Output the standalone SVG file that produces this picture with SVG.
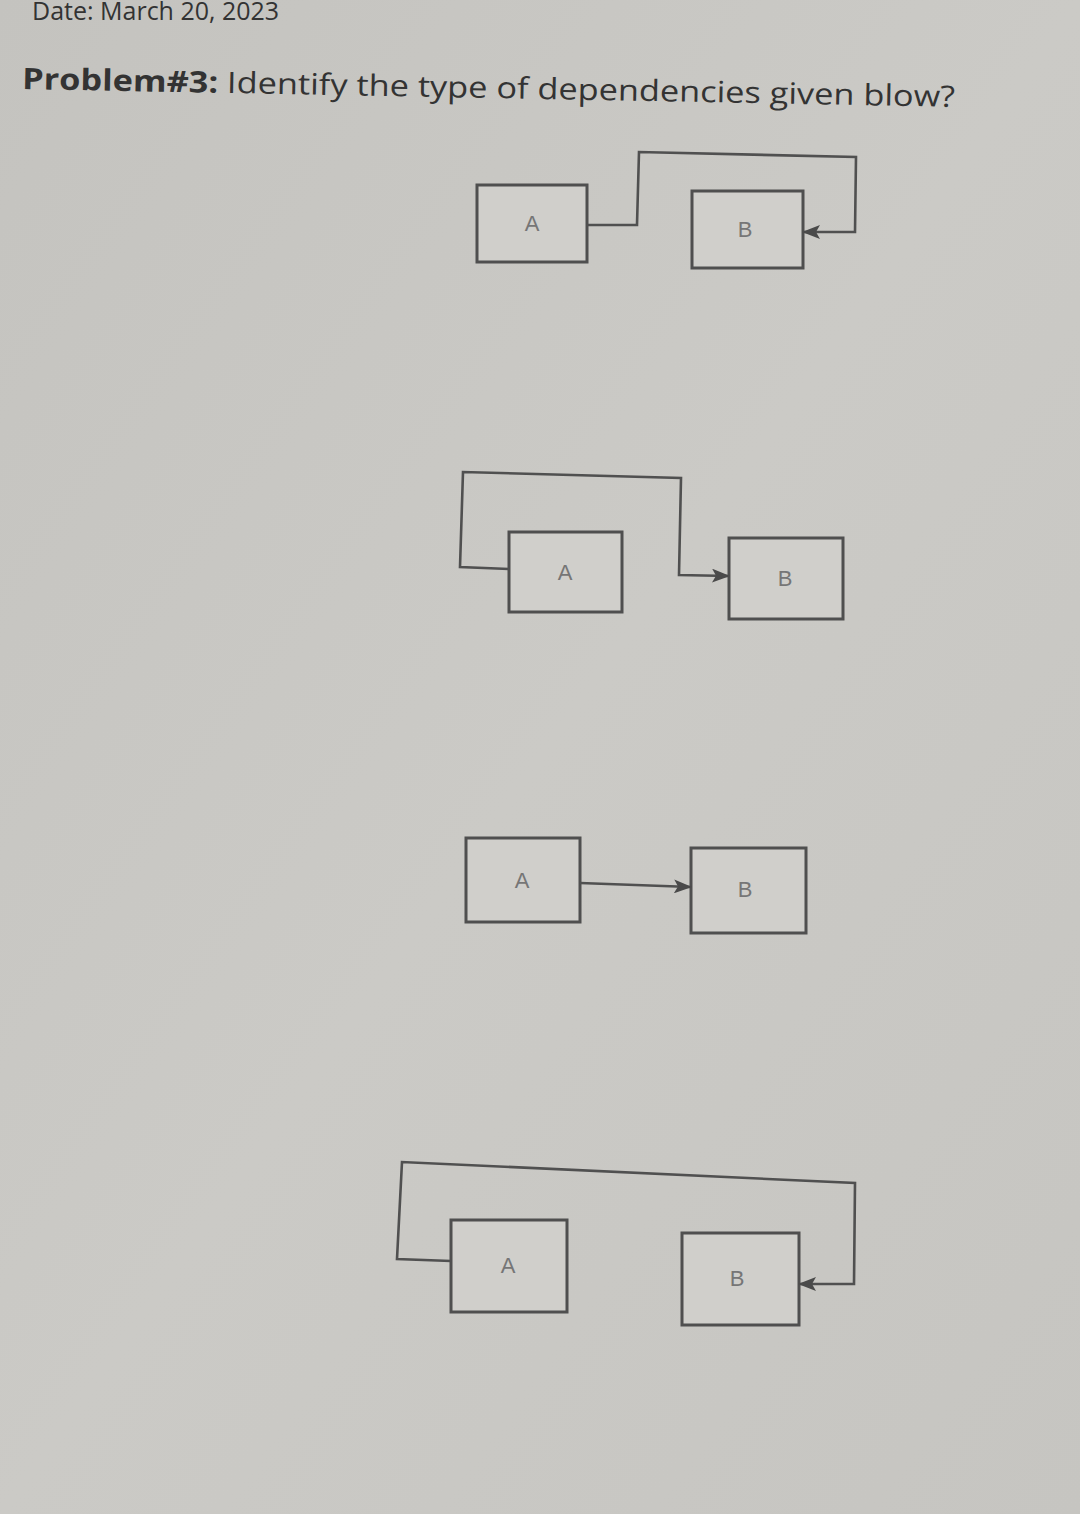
<svg xmlns="http://www.w3.org/2000/svg" width="1080" height="1514" viewBox="0 0 1080 1514">
  <defs>
    <linearGradient id="paper" x1="0" y1="0" x2="1" y2="1">
      <stop offset="0" stop-color="#c4c3bf"/>
      <stop offset="0.5" stop-color="#cbcac6"/>
      <stop offset="1" stop-color="#c6c5c1"/>
    </linearGradient>
    <marker id="arrow" viewBox="0 0 18 14" refX="17" refY="7" markerWidth="18" markerHeight="14" markerUnits="userSpaceOnUse" orient="auto">
      <path d="M0,0 L18,7 L0,14 L4,7 Z" fill="#4a4a4a"/>
    </marker>
  </defs>
  <style>
    .box { fill: #d0cfcb; stroke: #4f4f4f; stroke-width: 3; }
    .lbl { font-family: "Liberation Sans", Arial, sans-serif; font-size: 22px; fill: #767676; text-anchor: middle; }
    .conn { fill: none; stroke: #505050; stroke-width: 2.6; stroke-linejoin: miter; }
    .arr { marker-end: url(#arrow); }
    .hdr { font-family: "Open Sans", "Liberation Sans", sans-serif; fill: #333333; }
  </style>
  <rect x="0" y="0" width="1080" height="1514" fill="url(#paper)"/>

  <g id="header">
    <text class="hdr" x="32" y="20" font-size="25" fill="#555">Date: March 20, 2023</text>
    <text class="hdr" x="22" y="89" font-size="29.5" textLength="933" lengthAdjust="spacingAndGlyphs" transform="rotate(1.1 22 89)"><tspan font-weight="bold">Problem#3:</tspan> Identify the type of dependencies given blow?</text>
  </g>

  <!-- Diagram 1 -->
  <g id="d1-A"><rect class="box" x="477" y="185" width="110" height="77"/><text class="lbl" x="532" y="231">A</text></g>
  <g id="d1-B"><rect class="box" x="692" y="191" width="111" height="77"/><text class="lbl" x="745" y="237">B</text></g>

  <!-- Diagram 2 -->
  <g id="d2-A"><rect class="box" x="509" y="532" width="113" height="80"/><text class="lbl" x="565" y="580">A</text></g>
  <g id="d2-B"><rect class="box" x="729" y="538" width="114" height="81"/><text class="lbl" x="785" y="586">B</text></g>

  <!-- Diagram 3 -->
  <g id="d3-A"><rect class="box" x="466" y="838" width="114" height="84"/><text class="lbl" x="522" y="888">A</text></g>
  <g id="d3-B"><rect class="box" x="691" y="848" width="115" height="85"/><text class="lbl" x="745" y="897">B</text></g>

  <!-- Diagram 4 -->
  <g id="d4-A"><rect class="box" x="451" y="1220" width="116" height="92"/><text class="lbl" x="508" y="1273">A</text></g>
  <g id="d4-B"><rect class="box" x="682" y="1233" width="117" height="92"/><text class="lbl" x="737" y="1286">B</text></g>

  <g id="connectors">
    <path class="conn arr" d="M587,225 L637,225 L639,152 L856,157 L855,232 L803,232"/>
    <path class="conn arr" d="M509,569 L460,567 L463,472 L681,478 L679,575 L729,576"/>
    <path class="conn arr" d="M580,883 L691,887"/>
    <path class="conn arr" d="M451,1261 L397,1259 L402,1162 L855,1183 L854,1284 L799,1284"/>
  </g>
</svg>
